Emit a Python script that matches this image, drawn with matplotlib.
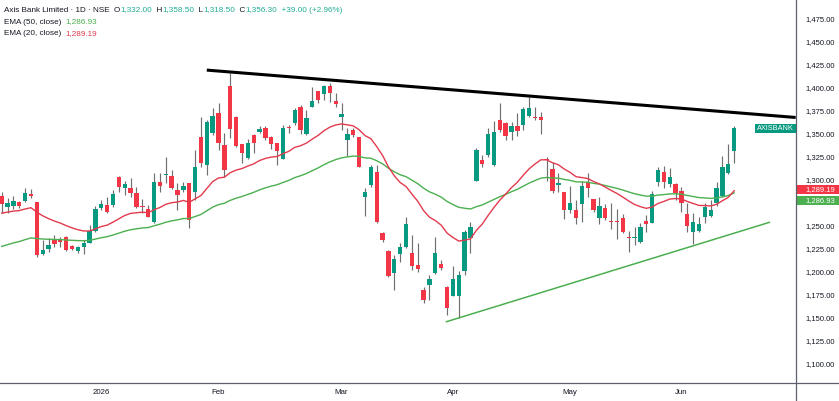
import matplotlib
matplotlib.use('Agg')
import matplotlib.pyplot as plt
from matplotlib import font_manager
from matplotlib.patches import Rectangle
from matplotlib.lines import Line2D

# ---------------- data ----------------
opens = [1282.9, 1271.0, 1272.1, 1276.4, 1277.5, 1284.4, 1275.7, 1219.5, 1225.3, 1235.9,
         1234.4, 1238.4, 1228.6, 1223.2, 1227.5, 1231.9, 1244.9, 1269.2, 1272.8, 1272.8,
         1303.6, 1291.6, 1290.9, 1286.2, 1271.3, 1268.1, 1254.0, 1297.4, 1306.1, 1304.7,
         1289.1, 1289.1, 1296.3, 1287.3, 1347.1, 1316.3, 1350.7, 1372.4, 1338.0, 1402.1,
         1368.8, 1339.1, 1323.5, 1348.9, 1351.8, 1356.9, 1347.1, 1339.8, 1322.8, 1357.6,
         1361.6, 1379.7, 1350.0, 1379.7, 1396.7, 1393.1, 1402.1, 1385.8, 1368.1, 1343.4,
         1354.3, 1346.3, 1281.8, 1294.5, 1309.0, 1242.7, 1223.2, 1198.5, 1219.2, 1227.5,
         1220.3, 1207.6, 1180.4, 1185.8, 1198.5, 1208.7, 1184.0, 1173.9, 1173.9, 1201.4,
         1236.6, 1299.2, 1321.7, 1327.1, 1316.3, 1365.2, 1361.6, 1352.5, 1358.7, 1359.8,
         1369.5, 1368.5, 1368.1, 1322.8, 1311.6, 1294.5, 1286.6, 1267.4, 1267.4, 1273.9,
         1298.2, 1279.0, 1258.3, 1269.2, 1255.4, 1255.4, 1259.0, 1237.9, 1237.0, 1233.0,
         1255.8, 1253.6, 1298.2, 1309.0, 1295.6, 1295.3, 1288.4, 1262.7, 1243.8, 1244.5,
         1259.4, 1260.8, 1274.6, 1282.6, 1307.2, 1332.0]
highs = [1287.3, 1280.0, 1282.9, 1277.5, 1290.9, 1289.8, 1276.4, 1234.8, 1236.6, 1240.2,
         1238.4, 1239.0, 1229.5, 1228.2, 1234.8, 1251.1, 1272.1, 1278.2, 1281.8, 1289.1,
         1304.0, 1299.2, 1301.8, 1292.7, 1279.0, 1272.8, 1307.2, 1307.2, 1325.3, 1310.8,
         1296.3, 1297.4, 1297.0, 1332.6, 1368.8, 1365.2, 1377.9, 1383.3, 1351.4, 1416.6,
         1369.5, 1339.5, 1344.2, 1349.5, 1358.7, 1358.7, 1347.5, 1340.2, 1359.8, 1359.8,
         1377.9, 1381.5, 1376.1, 1401.4, 1397.0, 1403.2, 1405.0, 1394.2, 1383.3, 1356.1,
         1356.1, 1346.7, 1290.9, 1316.3, 1316.3, 1243.0, 1223.5, 1218.5, 1231.2, 1260.1,
         1240.2, 1231.2, 1184.0, 1196.7, 1238.4, 1213.0, 1184.5, 1206.5, 1201.4, 1245.6,
         1254.7, 1334.4, 1327.1, 1356.1, 1364.1, 1384.0, 1363.4, 1362.7, 1372.4, 1379.7,
         1389.8, 1379.7, 1373.5, 1325.3, 1319.9, 1307.2, 1287.0, 1293.4, 1278.2, 1299.2,
         1307.2, 1279.5, 1281.8, 1273.9, 1274.6, 1268.1, 1263.0, 1244.9, 1249.3, 1252.9,
         1261.9, 1288.0, 1314.5, 1315.2, 1312.6, 1296.3, 1292.7, 1274.6, 1263.7, 1260.1,
         1274.6, 1278.2, 1298.2, 1326.1, 1338.7, 1358.5]
lows = [1263.7, 1263.7, 1268.1, 1270.0, 1276.4, 1280.0, 1216.6, 1218.5, 1222.1, 1227.5,
        1227.5, 1223.2, 1224.0, 1221.0, 1219.2, 1231.2, 1243.8, 1267.4, 1263.7, 1271.0,
        1287.3, 1283.7, 1281.8, 1269.2, 1263.7, 1259.5, 1252.9, 1287.3, 1296.3, 1289.8,
        1267.4, 1287.3, 1247.4, 1278.2, 1314.5, 1305.4, 1348.9, 1332.6, 1303.6, 1345.3,
        1336.2, 1318.1, 1323.0, 1329.7, 1351.4, 1343.4, 1333.3, 1316.3, 1322.4, 1350.7,
        1359.8, 1350.0, 1348.9, 1379.0, 1383.3, 1386.9, 1385.1, 1379.7, 1354.3, 1326.1,
        1347.1, 1313.7, 1260.8, 1292.7, 1252.9, 1233.0, 1194.2, 1180.4, 1211.2, 1225.7,
        1202.2, 1200.3, 1165.9, 1169.5, 1198.0, 1202.2, 1153.2, 1173.5, 1149.6, 1196.7,
        1221.0, 1299.0, 1314.5, 1325.3, 1315.2, 1352.5, 1343.4, 1343.4, 1347.8, 1354.3,
        1368.8, 1365.2, 1350.0, 1299.2, 1285.5, 1287.3, 1257.2, 1264.5, 1252.2, 1254.7,
        1281.1, 1265.6, 1251.8, 1256.5, 1246.3, 1235.5, 1242.7, 1221.4, 1229.3, 1231.9,
        1243.8, 1252.9, 1293.4, 1290.9, 1292.7, 1278.2, 1265.6, 1243.8, 1230.4, 1243.8,
        1252.9, 1260.1, 1272.1, 1281.8, 1306.5, 1318.5]
closes = [1273.9, 1275.3, 1277.1, 1271.7, 1285.5, 1282.9, 1218.5, 1223.9, 1229.0, 1230.0,
          1233.0, 1223.9, 1225.0, 1226.8, 1231.5, 1244.5, 1268.8, 1273.9, 1265.6, 1284.8,
          1292.7, 1295.3, 1285.5, 1271.0, 1270.6, 1260.1, 1297.4, 1293.4, 1306.9, 1291.6,
          1283.7, 1293.8, 1256.5, 1314.5, 1318.1, 1363.4, 1369.5, 1339.8, 1310.8, 1355.0,
          1336.9, 1329.0, 1340.5, 1340.5, 1355.4, 1345.3, 1339.1, 1331.9, 1356.9, 1356.1,
          1376.1, 1354.3, 1367.0, 1385.8, 1386.9, 1402.1, 1394.2, 1382.6, 1371.7, 1350.0,
          1348.9, 1314.5, 1287.3, 1313.7, 1254.7, 1234.8, 1195.6, 1213.7, 1227.5, 1252.2,
          1206.5, 1202.9, 1169.5, 1192.0, 1221.0, 1204.0, 1160.5, 1192.0, 1196.7, 1243.8,
          1249.3, 1332.6, 1317.0, 1350.0, 1352.5, 1354.3, 1347.8, 1358.7, 1353.2, 1376.8,
          1377.9, 1368.1, 1365.2, 1321.7, 1288.4, 1296.3, 1267.4, 1274.6, 1259.0, 1293.4,
          1291.6, 1267.4, 1271.7, 1259.0, 1254.3, 1254.0, 1243.8, 1237.0, 1237.6, 1248.5,
          1251.8, 1284.4, 1310.8, 1298.2, 1303.6, 1285.5, 1275.3, 1250.3, 1254.0, 1252.2,
          1271.0, 1267.4, 1291.6, 1313.7, 1317.3, 1356.3]

month_labels = ['2026', 'Feb', 'Mar', 'Apr', 'May', 'Jun']
month_bar_index = [17, 37, 58, 77, 97, 116]

ema20_prior = 1263.0   # EMA(20) value just before the first visible bar
ema50_prior = 1226.0   # EMA(50) value just before the first visible bar
ema20_last_label = 1289.19
ema50_last_label = 1286.93

resistance_index = [35.0, 135.5]
resistance_price = [1419.5, 1368.0]
support_index = [75.9, 131.0]
support_price = [1146.0, 1254.0]

price_ticks = [1100, 1125, 1150, 1175, 1200, 1225, 1250, 1300, 1325, 1350,
               1375, 1400, 1425, 1450, 1475]

# ---------------- styling ----------------
avail = {f.name for f in font_manager.fontManager.ttflist}
FAM = 'Liberation Sans' if 'Liberation Sans' in avail else 'DejaVu Sans'
plt.rcParams['font.family'] = [FAM, 'DejaVu Sans']

UP = '#089981'
DOWN = '#F23645'
WICK = '#6f6f6f'
EMA20_C = '#E23B4E'
EMA50_C = '#4CAF50'
TXT = '#131722'

W, H = 839, 401
fig = plt.figure(figsize=(W / 100, H / 100), dpi=100)
fig.patch.set_facecolor('white')
ax_right_px, ax_bottom_px = 795.7, 382.7
ax = fig.add_axes([0, (H - ax_bottom_px) / H, ax_right_px / W, ax_bottom_px / H])
ax.set_facecolor('white')
ax.set_xlim(-0.29, 135.5)
ax.set_ylim(1079.7, 1495.7)

n = len(closes)
xs = list(range(n))

# wicks
for i in xs:
    ax.plot([i, i], [lows[i], highs[i]], color=WICK, lw=0.85, solid_capstyle='butt', zorder=2)
# bodies
bw = 0.74
for i in xs:
    o, c = opens[i], closes[i]
    col = UP if c >= o else DOWN
    bottom = min(o, c)
    height = abs(c - o)
    if height < 1.1:
        bottom = (o + c) / 2 - 0.55
        height = 1.1
    ax.add_patch(Rectangle((i - bw / 2, bottom), bw, height, facecolor=col,
                           edgecolor='none', zorder=3))

# EMAs
def ema(vals, n_, prior):
    a = 2.0 / (n_ + 1)
    out = []
    prev = prior
    for v in vals:
        prev = a * v + (1 - a) * prev
        out.append(prev)
    return out

e20 = ema(closes, 20, ema20_prior)
e50 = ema(closes, 50, ema50_prior)
ax.plot(xs, e50, color=EMA50_C, lw=1.0, zorder=4)
ax.plot(xs, e20, color=EMA20_C, lw=1.0, zorder=4)

# trend lines
ax.plot(resistance_index, resistance_price, color='black', lw=2.2, zorder=5,
        solid_capstyle='butt')
ax.plot(support_index, support_price, color='#4CAF50', lw=1.1, zorder=5)

# axes styling
for s in ax.spines.values():
    s.set_visible(False)
ax.yaxis.tick_right()
ax.set_yticks(price_ticks)
ax.set_yticklabels([f'{v:,.2f}' for v in price_ticks])
ax.tick_params(axis='y', length=0, pad=7, labelsize=5.5, labelcolor=TXT)
ax.set_xticks(month_bar_index)
ax.set_xticklabels(month_labels)
ax.tick_params(axis='x', length=0, pad=4.5, labelsize=5.7, labelcolor=TXT)

# frame lines (price scale and time scale separators)
fig.add_artist(Line2D([ax_right_px / W] * 2, [0, 1], transform=fig.transFigure,
                      color='#5d606b', lw=0.9))
fig.add_artist(Line2D([0, 1], [(H - ax_bottom_px) / H] * 2, transform=fig.transFigure,
                      color='#5d606b', lw=0.9))

# price-scale labels
def fig_y(price):
    return ax.transData.transform((0, price))[1] / H

lab_h = 9.0 / H
y20 = fig_y(ema20_last_label)
y50 = y20 - 10.5 / H
x0 = ax_right_px / W
for yc, val, col in [(y20, ema20_last_label, DOWN), (y50, ema50_last_label, EMA50_C)]:
    fig.add_artist(Rectangle((x0, yc - lab_h / 2), 1 - x0, lab_h, transform=fig.transFigure,
                             facecolor=col, edgecolor='none'))
    fig.text(x0 + 9.5 / W, yc, f'{val:,.2f}', color='white', fontsize=5.5,
             va='center', ha='left')

# symbol label at last close
ysym = fig_y(closes[-1])
sym_w = 41.0 / W
fig.add_artist(Rectangle((x0 - sym_w, ysym - lab_h / 2), sym_w, lab_h,
                         transform=fig.transFigure, facecolor=UP, edgecolor='none', zorder=6))
fig.text(x0 - sym_w / 2, ysym, 'AXISBANK', color='white', fontsize=5.3,
         va='center', ha='center', zorder=7)

# header legend
last_o, last_h, last_l, last_c = opens[-1], highs[-1], lows[-1], closes[-1]
chg = last_c - closes[-2]
pct = chg / closes[-2] * 100
HG = '#22AB94'

def chain(pieces, x_px, y_px, fs=5.9):
    prev = fig.text(x_px / W, 1 - y_px / H, pieces[0][0], color=pieces[0][1],
                    fontsize=fs, va='center', ha='left')
    for txt, col in pieces[1:]:
        prev = ax.annotate(txt, xy=(1, 0.5), xycoords=prev, color=col, fontsize=fs,
                           va='center', ha='left', annotation_clip=False)

chain([('Axis Bank Limited \u00b7 1D \u00b7 NSE  ', TXT),
       ('O', TXT), (f'{last_o:,.2f}', HG),
       ('  H', TXT), (f'{last_h:,.2f}', HG),
       ('  L', TXT), (f'{last_l:,.2f}', HG),
       ('  C', TXT), (f'{last_c:,.2f}', HG),
       (f'  {chg:+.2f} ({pct:+.2f}%)', HG)], 4, 10)
chain([('EMA (50, close)  ', TXT), (f'{ema50_last_label:,.2f}', EMA50_C)], 4, 22)
chain([('EMA (20, close)  ', TXT), (f'{ema20_last_label:,.2f}', EMA20_C)], 4, 33.5)

fig.savefig('out.png', dpi=100, facecolor='white')
